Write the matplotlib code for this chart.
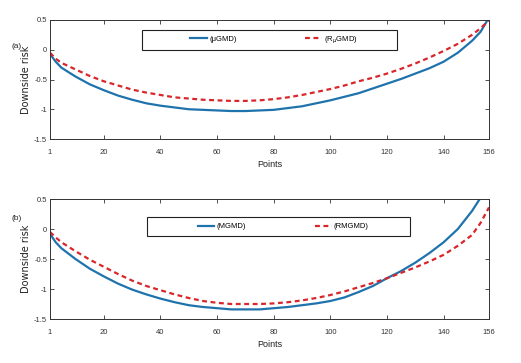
import matplotlib
matplotlib.use('Agg')
from matplotlib import pyplot as plt
from matplotlib.patches import Rectangle

plt.rcParams['font.family'] = ['Liberation Sans Narrow', 'Liberation Sans', 'DejaVu Sans']
plt.rcParams['axes.unicode_minus'] = False

xa = [1, 3, 5, 10, 15, 20, 25, 30, 35, 40, 45, 50, 55, 60, 65, 70, 75, 80, 85, 90,
      95, 100, 105, 110, 115, 120, 125, 130, 135, 140, 145, 150, 153, 155, 156]
mu_gmd = [-0.07, -0.2, -0.3, -0.45, -0.58, -0.68, -0.77, -0.84, -0.9, -0.94, -0.97, -1.0,
          -1.01, -1.02, -1.03, -1.03, -1.02, -1.01, -0.98, -0.95, -0.9, -0.85, -0.79, -0.73,
          -0.65, -0.57, -0.49, -0.4, -0.31, -0.2, -0.05, 0.15, 0.3, 0.46, 0.55]
rmu_gmd = [-0.05, -0.15, -0.22, -0.33, -0.44, -0.53, -0.6, -0.67, -0.72, -0.76, -0.8, -0.82,
           -0.84, -0.85, -0.86, -0.86, -0.85, -0.83, -0.8, -0.76, -0.71, -0.66, -0.6, -0.53,
           -0.47, -0.4, -0.32, -0.23, -0.13, -0.02, 0.1, 0.25, 0.36, 0.45, 0.5]

xb = [1, 3, 5, 10, 15, 20, 25, 30, 35, 40, 45, 50, 55, 60, 65, 70, 75, 80, 85, 90,
      95, 100, 105, 110, 115, 120, 125, 130, 135, 140, 145, 150, 153, 156]
mgmd = [-0.08, -0.22, -0.32, -0.5, -0.66, -0.79, -0.91, -1.01, -1.09, -1.16, -1.22, -1.27,
        -1.3, -1.32, -1.34, -1.34, -1.34, -1.32, -1.3, -1.27, -1.24, -1.2, -1.14, -1.05,
        -0.95, -0.82, -0.7, -0.56, -0.4, -0.22, 0.0, 0.3, 0.52, 0.75]
rmgmd = [-0.05, -0.14, -0.22, -0.37, -0.51, -0.63, -0.75, -0.86, -0.95, -1.02, -1.09, -1.15,
         -1.2, -1.23, -1.25, -1.25, -1.25, -1.24, -1.22, -1.19, -1.15, -1.1, -1.04, -0.97,
         -0.9, -0.82, -0.73, -0.64, -0.54, -0.43, -0.28, -0.1, 0.1, 0.36]

xticks = [1, 20, 40, 60, 80, 100, 120, 140, 156]
yticks = [-1.5, -1, -0.5, 0, 0.5]
yticklabels = ['-1.5', '-1', '-0.5', '0', '0.5']

blue = '#1f73ad'
red = '#d9262b'

fig = plt.figure(figsize=(5.21, 3.63), dpi=100)
ax1 = fig.add_axes([50 / 521, 1 - 139 / 363, 439 / 521, 119 / 363])
ax2 = fig.add_axes([50 / 521, 1 - 319 / 363, 439 / 521, 120 / 363])

panels = [
    (ax1, xa, mu_gmd, rmu_gmd, '(μGMD)', r'(R$_\mu$GMD)', '(a)',
     (0.21, 0.748, 0.58, 0.168), 47),
    (ax2, xb, mgmd, rmgmd, '(MGMD)', '(RMGMD)', '(b)',
     (0.221, 0.69, 0.6, 0.16), 218),
]

for ax, x, s1, s2, l1, l2, tag, box, tag_y in panels:
    h1, = ax.plot(x, s1, color=blue, lw=1.6, label=l1)
    h2, = ax.plot(x, s2, color=red, lw=1.6, ls=(0, (2.2, 1.6)), label=l2)
    ax.set_xlim(1, 156)
    ax.set_ylim(-1.5, 0.5)
    ax.set_xticks(xticks)
    ax.set_xticklabels([str(t) for t in xticks])
    ax.set_yticks(yticks)
    ax.set_yticklabels(yticklabels)
    ax.tick_params(direction='in', length=3, width=0.6, top=True, right=True,
                   labelsize=5.5, colors='#333333')
    ax.tick_params(axis='x', pad=7)
    ax.tick_params(axis='y', pad=2)
    for sp in ax.spines.values():
        sp.set_linewidth(0.7)
        sp.set_color('#333333')
    ax.set_xlabel('Points', fontsize=6.5, labelpad=3, color='#222222')
    ax.set_ylabel('Downside risk', fontsize=7, family='DejaVu Sans', color='#222222')
    ax.yaxis.set_label_coords(-0.044, 0.5)
    ax.add_patch(Rectangle((box[0], box[1]), box[2], box[3], transform=ax.transAxes,
                           facecolor='white', edgecolor='#222222', lw=0.8, zorder=5))
    leg = ax.legend(handles=[h1, h2], ncol=2, frameon=False, fontsize=5.5,
                    loc='center', bbox_to_anchor=(box[0] + box[2] / 2 + 0.01, box[1] + box[3] / 2),
                    columnspacing=9, handlelength=2.2, handletextpad=0.3)
    leg.set_zorder(6)
    fig.text(12 / 521, 1 - tag_y / 363, tag, fontsize=6, va='center', color='#222222')

fig.savefig('out.png', dpi=100)
